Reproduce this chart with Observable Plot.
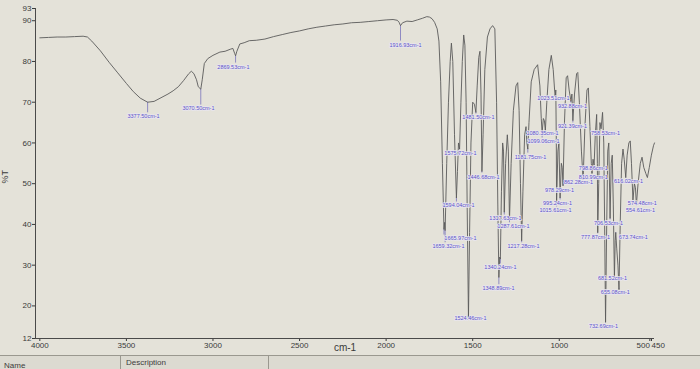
<!DOCTYPE html>
<html><head><meta charset="utf-8">
<script src="https://cdn.jsdelivr.net/npm/d3@7"></script>
<script src="https://cdn.jsdelivr.net/npm/@observablehq/plot@0.6"></script>
<style>
html,body{margin:0;padding:0;width:700px;height:369px;overflow:hidden;background:#e4e2d9;font-family:"Liberation Sans",Arial,sans-serif;}
#chart{position:absolute;left:0;top:0;}
#chart svg{display:block;}
#tbl{position:absolute;left:0;top:355px;width:700px;height:14px;border-top:1px solid #9a988f;background:#dcdad1;font-size:8px;color:#3c3c3c;}
#tbl .c{position:absolute;top:2px;}
#tbl .s{position:absolute;top:0;width:1px;height:14px;background:#9a988f;}
</style></head><body>
<div id="chart"></div>
<div id="tbl"><span class="c" style="left:4px;top:5px">Name</span><div class="s" style="left:120px"></div><span class="c" style="left:126px">Description</span><div class="s" style="left:268px"></div></div>
<script>
// x-axis (wavenumber, cm-1) and y-axis (%T) tick values
const xTicks = [4000, 3500, 3000, 2500, 2000, 1500, 1000];
const xTickLow = [500];
const xTickEnd = [450];
const yTicks = [12, 20, 30, 40, 50, 60, 70, 80, 90, 93];

// spectrum: [wavenumber, %T]
const spectrum = [
[4000,85.8],[3950,85.9],[3900,86.0],[3850,86.0],[3800,86.1],[3750,86.2],[3725,86.0],[3700,85.0],[3650,82.6],[3600,79.8],[3550,77.2],[3500,74.6],[3460,72.6],[3420,71.0],[3377.5,70.0],[3340,70.2],[3300,71.1],[3260,72.0],[3230,72.8],[3200,73.8],[3170,75.3],[3140,77.0],[3125,77.6],[3110,77.0],[3095,75.5],[3085,73.8],[3070.5,73.2],[3062,75.5],[3050,79.5],[3030,80.7],[3000,81.5],[2960,82.3],[2930,82.5],[2900,83.0],[2885,83.2],[2875,82.0],[2869.5,81.4],[2862,82.5],[2845,84.3],[2820,84.6],[2790,85.1],[2750,85.2],[2700,85.5],[2650,86.1],[2600,86.6],[2550,87.1],[2500,87.5],[2450,88.0],[2400,88.4],[2350,88.7],[2300,89.0],[2250,89.2],[2200,89.5],[2150,89.6],[2100,89.8],[2050,90.0],[2000,90.2],[1960,90.3],[1935,90.1],[1925,89.6],[1916.93,88.8],[1905,89.5],[1880,89.9],[1850,89.8],[1820,90.2],[1790,90.6],[1765,91.0],[1750,90.9],[1735,90.5],[1720,89.6],[1705,88.0],[1695,85.0],[1685,75.0],[1675,55.0],[1665.97,38.8],[1662,40.5],[1659.32,38.5],[1650,55],[1640,70],[1630,80],[1623,84.5],[1615,80],[1605,62],[1594.04,46.5],[1588,53],[1582,60],[1575.72,58.5],[1568,70],[1560,80],[1552,86.5],[1545,84],[1538,70],[1532,45],[1524.46,17],[1518,38],[1510,60],[1500,70],[1490,69.5],[1481.5,67.5],[1474,74],[1465,81],[1458,82.5],[1452,72],[1446.68,53],[1440,62],[1430,78],[1415,86],[1400,88],[1385,88.8],[1372,88],[1362,70],[1355,45],[1348.89,27],[1344,32],[1340.24,31.5],[1334,48],[1327,60],[1322,58],[1317.63,43],[1310,55],[1300,62],[1294,58],[1287.61,41],[1278,55],[1265,68],[1250,74],[1240,74.8],[1232,68],[1224,50],[1217.28,36],[1210,48],[1200,62],[1192,64],[1187,60],[1181.75,58.5],[1175,65],[1162,75],[1145,78],[1125,79.2],[1112,74],[1104,66],[1099.06,62.5],[1092,66],[1086,65.5],[1080.35,63],[1072,70],[1060,78],[1046,81.5],[1035,78],[1027,73],[1023.51,71.3],[1020,73],[1017,60],[1015.61,45],[1008,58],[1002,60],[995.24,46.5],[988,55],[983,54],[978.29,49.5],[970,65],[960,76],[952,76.5],[943,73],[932.88,70.2],[927,72],[921.39,65.5],[912,72],[900,77],[893,77.3],[884,70],[872,58],[862.28,51],[852,64],[840,73],[832,73.5],[823,64],[815,55],[810.99,52.5],[805,56],[798.86,54.5],[792,62],[784,67],[780,55],[777.87,38],[772,50],[765,65],[758.53,63.5],[750,67.5],[743,60],[738,40],[732.69,16],[726,40],[720,58],[714,60],[706.53,41.5],[700,55],[694,57],[688,45],[681.52,27],[677,36],[673.74,38],[668,34],[661,30],[655.08,24],[648,40],[640,55],[632,58.5],[625,56],[616.02,51.5],[608,57],[598,60],[590,60.5],[583,55],[574.48,46],[566,50],[560,49],[554.61,44.8],[545,50],[532,55],[522,56.5],[512,54],[500,52.5],[491,51.5],[480,54],[468,57],[456,59.3],[450,60]
];

// peak annotations: label text, peak wavenumber, %T at peak, label anchor (wavenumber, %T)
const peakText = ["3377.50cm-1","3070.50cm-1","2869.53cm-1","1916.93cm-1","1481.50cm-1","1575.72cm-1","1446.68cm-1","1594.04cm-1","1317.63cm-1","1287.61cm-1","1665.97cm-1","1659.32cm-1","1217.28cm-1","1340.24cm-1","1348.89cm-1","1524.46cm-1","1181.75cm-1","1080.35cm-1","1099.06cm-1","1023.51cm-1","932.88cm-1","921.39cm-1","758.53cm-1","798.86cm-1","810.99cm-1","862.28cm-1","978.29cm-1","995.24cm-1","1015.61cm-1","616.02cm-1","574.48cm-1","554.61cm-1","706.53cm-1","777.87cm-1","673.74cm-1","681.52cm-1","655.08cm-1","732.69cm-1"];
const peakWn = [3377.5,3070.5,2869.53,1916.93,1481.5,1575.72,1446.68,1594.04,1317.63,1287.61,1665.97,1659.32,1217.28,1340.24,1348.89,1524.46,1181.75,1080.35,1099.06,1023.51,932.88,921.39,758.53,798.86,810.99,862.28,978.29,995.24,1015.61,616.02,574.48,554.61,706.53,777.87,673.74,681.52,655.08,732.69];
const peakT = [70.0,73.2,81.4,88.8,67.5,58.5,53,46.5,43,41,38.8,38.5,36,31.5,27,17,58.5,63,62.5,71.3,70.2,65.5,63.5,54.5,52.5,51,49.5,46.5,45,51.5,46,44.8,41.5,38,38,27,24,16];
const labelWn = [3401,3084,2882,1888,1467,1571,1438,1582,1311,1265,1571,1640,1207,1340,1351,1513,1166,1097,1091,1034,924,924,733,803,803,889,999,1010,1022,600,520,531,716,791,572,693,676,745];
const labelT = [66.5,68.4,78.7,84.1,66.2,57.4,51.7,44.6,41.4,39.5,36.5,34.6,34.6,29.4,24.3,16.9,56.6,62.3,60.3,70.9,68.9,64.0,62.5,53.7,51.7,50.3,48.5,45.1,43.4,50.5,45.1,43.6,40.2,36.8,36.8,26.7,23.3,14.9];

const peaks = peakText.map((t, i) => ({text: t, wn: peakWn[i], t: peakT[i], lwn: labelWn[i], lt: labelT[i]}));

const axisStyle = {tickSize: 3, tickPadding: 1, tickFormat: d => String(d), label: null, fill: "#3a3a3a"};

const chart = Plot.plot({
  width: 700, height: 355,
  marginLeft: 35, marginRight: 46, marginTop: 8, marginBottom: 17,
  style: {background: "transparent", fontFamily: "Liberation Sans, Arial, sans-serif", fontSize: "8px", color: "#3a3a3a"},
  x: {domain: [4025, 450]},
  y: {domain: [12, 93]},
  marks: [
    Plot.axisX(xTicks, axisStyle),
    Plot.axisX(xTickLow, {...axisStyle, textAnchor: "end", dx: 4}),
    Plot.axisX(xTickEnd, {...axisStyle, textAnchor: "start", dx: -3}),
    Plot.axisY(yTicks, axisStyle),
    Plot.ruleX([4025], {stroke: "#4a4a4a"}),
    Plot.ruleY([12], {stroke: "#4a4a4a"}),
    Plot.ruleX(peaks, {x: "wn", y1: "t", y2: d => d.lt + 0.9, stroke: "#6a64b8", strokeWidth: 0.7}),
    Plot.line(spectrum, {x: d => d[0], y: d => d[1], stroke: "#5a5a5a", strokeWidth: 0.9}),
    Plot.text(peaks, {x: "lwn", y: "lt", text: "text", fill: "#5b52c8", fontSize: 5.5, stroke: "#e9e6ee", strokeWidth: 1.5, paintOrder: "stroke"}),
    Plot.text(["cm-1"], {frameAnchor: "bottom", dy: 12, fontSize: 10, fill: "#3a3a3a"}),
    Plot.text(["%T"], {frameAnchor: "left", dx: -30, dy: 10, rotate: -90, fontSize: 9, fill: "#3a3a3a"})
  ]
});
document.getElementById("chart").appendChild(chart);
</script>
</body></html>
